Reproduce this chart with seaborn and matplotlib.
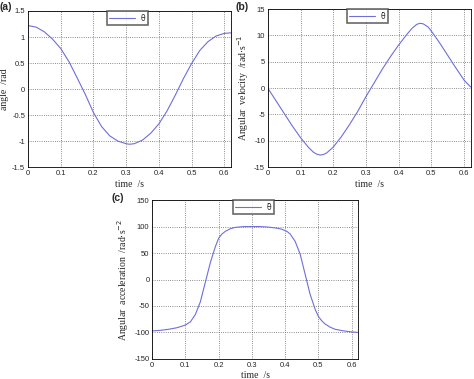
import matplotlib
matplotlib.use("Agg")
import matplotlib.pyplot as plt
import seaborn as sns
import pandas as pd

sns.set_style("white")
plt.rcParams['font.family'] = ['Liberation Serif', 'DejaVu Serif']

# ---- data ----
t_angle = [0, 0.025, 0.05, 0.075, 0.1, 0.125, 0.15, 0.175, 0.2, 0.225, 0.25, 0.275, 0.3, 0.31,
           0.325, 0.35, 0.375, 0.4, 0.425, 0.45, 0.475, 0.5, 0.525, 0.55, 0.575, 0.6, 0.62]
angle = [1.22, 1.19, 1.10, 0.96, 0.78, 0.53, 0.22, -0.10, -0.45, -0.72, -0.90, -1.00, -1.05, -1.06,
         -1.05, -0.98, -0.85, -0.67, -0.42, -0.12, 0.20, 0.49, 0.74, 0.91, 1.02, 1.07, 1.08]

t_vel = [0, 0.025, 0.05, 0.075, 0.1, 0.125, 0.14, 0.15, 0.16, 0.17, 0.18, 0.2, 0.225, 0.25, 0.275, 0.3,
         0.325, 0.35, 0.375, 0.4, 0.425, 0.44, 0.455, 0.465, 0.475, 0.49, 0.5, 0.525, 0.55, 0.575, 0.6, 0.62]
velocity = [0.0, -2.4, -4.8, -7.2, -9.4, -11.3, -12.2, -12.55, -12.7, -12.6, -12.3, -11.2, -9.2, -6.9, -4.4, -1.6,
            1.0, 3.6, 6.0, 8.2, 10.2, 11.3, 12.1, 12.3, 12.2, 11.6, 10.8, 8.6, 6.2, 3.8, 1.5, 0.2]

t_acc = [0, 0.025, 0.05, 0.075, 0.1, 0.115, 0.13, 0.145, 0.16, 0.175, 0.19, 0.2, 0.21, 0.22, 0.235,
         0.25, 0.275, 0.3, 0.325, 0.35, 0.375, 0.39, 0.405, 0.415, 0.43, 0.445, 0.46, 0.475, 0.49, 0.5,
         0.51, 0.52, 0.535, 0.55, 0.575, 0.6, 0.62]
acceleration = [-97, -96, -94, -91, -86, -80, -66, -42, -5, 32, 62, 78, 86, 91, 96,
                98.5, 100, 100, 100, 99, 97, 95, 91, 86, 72, 48, 10, -28, -56, -70,
                -78, -84, -90, -94, -97, -99, -100]

x_ticks = [0, 0.1, 0.2, 0.3, 0.4, 0.5, 0.6]
x_labels = ["0", "0.1", "0.2", "0.3", "0.4", "0.5", "0.6"]
ya_ticks = [-1.5, -1, -0.5, 0, 0.5, 1, 1.5]
ya_labels = ["-1.5", "-1", "-0.5", "0", "0.5", "1", "1.5"]
yb_ticks = [-15, -10, -5, 0, 5, 10, 15]
yb_labels = ["-15", "-10", "-5", "0", "5", "10", "15"]
yc_ticks = [-150, -100, -50, 0, 50, 100, 150]
yc_labels = ["-150", "-100", "-50", "0", "50", "100", "150"]

line_color = "#6e6edc"

fig = plt.figure(figsize=(4.74, 3.79), dpi=100)

def panel(rect, t, y, legend_label, yticks, ylabels, ylabel, letter, letter_xy):
    ax = fig.add_axes(rect)
    df = pd.DataFrame({"t": t, "v": y, "s": legend_label})
    sns.lineplot(data=df, x="t", y="v", hue="s", palette=[line_color], linewidth=0.8, ax=ax)
    ax.set_xlim(0, 0.62)
    ax.set_ylim(yticks[0], yticks[-1])
    ax.set_xticks(x_ticks, x_labels)
    ax.set_yticks(yticks, ylabels)
    ax.tick_params(axis="both", labelsize=5.5, length=2, direction="in", pad=2)
    for lbl in ax.get_xticklabels() + ax.get_yticklabels():
        lbl.set_family(["Liberation Sans", "DejaVu Sans"])
    ax.grid(True, linestyle=":", color="#666666", linewidth=0.6)
    for sp in ax.spines.values():
        sp.set_color("black")
        sp.set_linewidth(0.6)
    ax.set_xlabel("time  /s", fontsize=7, labelpad=2)
    ax.set_ylabel(ylabel, fontsize=7, labelpad=2)
    leg = ax.legend(loc="upper center", fontsize=5.5, handlelength=3.4, frameon=True,
                    fancybox=False, borderpad=0.35, borderaxespad=0.0,
                    handletextpad=0.7, bbox_to_anchor=(0.49, 1.0),
                    prop={"family": ["DejaVu Sans"], "size": 5.5})
    leg.get_frame().set_edgecolor("#444444")
    leg.get_frame().set_linewidth(1.2)
    fig.text(letter_xy[0], letter_xy[1], letter, fontsize=7.5, fontweight="bold",
             family=["Liberation Sans", "DejaVu Sans"], ha="left", va="top")
    return ax

panel([0.059, 0.559, 0.428, 0.412], t_angle, angle, "\u03b8", ya_ticks, ya_labels,
      "angle  /rad", "(a)", (0.0, 0.995))
panel([0.565, 0.559, 0.428, 0.417], t_vel, velocity, "\u03b8\u0307", yb_ticks, yb_labels,
      r"Angular  velocity  /rad$\cdot$s$^{-1}$", "(b)", (0.497, 0.995))
panel([0.321, 0.053, 0.435, 0.419], t_acc, acceleration, "\u03b8\u0308", yc_ticks, yc_labels,
      r"Angular  acceleration  /rad$\cdot$s$^{-2}$", "(c)", (0.235, 0.49))

fig.savefig("out.png", dpi=100)
